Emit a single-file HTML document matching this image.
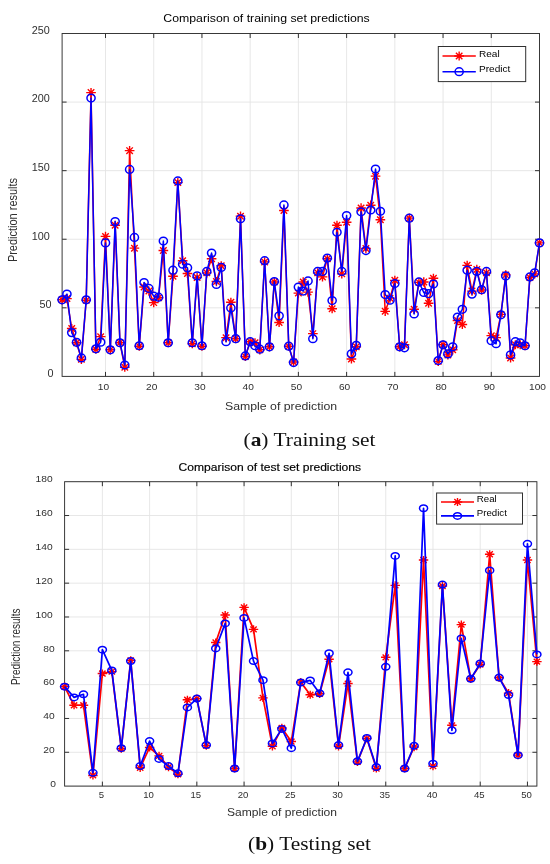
<!DOCTYPE html>
<html><head><meta charset="utf-8"><title>Comparison of predictions</title>
<style>html,body{margin:0;padding:0;background:#fff}svg{display:block}</style></head>
<body>
<svg width="550" height="864" viewBox="0 0 550 864">
<rect width="550" height="864" fill="#fff"/>
<g id="chart1">
<line x1="105.50" y1="33.5" x2="105.50" y2="376.4" stroke="#e4e4e4" stroke-width="0.9"/>
<line x1="153.72" y1="33.5" x2="153.72" y2="376.4" stroke="#e4e4e4" stroke-width="0.9"/>
<line x1="201.94" y1="33.5" x2="201.94" y2="376.4" stroke="#e4e4e4" stroke-width="0.9"/>
<line x1="250.17" y1="33.5" x2="250.17" y2="376.4" stroke="#e4e4e4" stroke-width="0.9"/>
<line x1="298.39" y1="33.5" x2="298.39" y2="376.4" stroke="#e4e4e4" stroke-width="0.9"/>
<line x1="346.61" y1="33.5" x2="346.61" y2="376.4" stroke="#e4e4e4" stroke-width="0.9"/>
<line x1="394.83" y1="33.5" x2="394.83" y2="376.4" stroke="#e4e4e4" stroke-width="0.9"/>
<line x1="443.06" y1="33.5" x2="443.06" y2="376.4" stroke="#e4e4e4" stroke-width="0.9"/>
<line x1="491.28" y1="33.5" x2="491.28" y2="376.4" stroke="#e4e4e4" stroke-width="0.9"/>
<line x1="539.50" y1="33.5" x2="539.50" y2="376.4" stroke="#e4e4e4" stroke-width="0.9"/>
<line x1="62.1" y1="376.40" x2="539.5" y2="376.40" stroke="#e4e4e4" stroke-width="0.9"/>
<line x1="62.1" y1="307.82" x2="539.5" y2="307.82" stroke="#e4e4e4" stroke-width="0.9"/>
<line x1="62.1" y1="239.24" x2="539.5" y2="239.24" stroke="#e4e4e4" stroke-width="0.9"/>
<line x1="62.1" y1="170.66" x2="539.5" y2="170.66" stroke="#e4e4e4" stroke-width="0.9"/>
<line x1="62.1" y1="102.08" x2="539.5" y2="102.08" stroke="#e4e4e4" stroke-width="0.9"/>
<line x1="62.1" y1="33.50" x2="539.5" y2="33.50" stroke="#e4e4e4" stroke-width="0.9"/>
<rect x="62.1" y="33.5" width="477.4" height="342.9" fill="none" stroke="#303030" stroke-width="0.95"/>
<path d="M105.50 376.4v-4.5M105.50 33.5v4.5" stroke="#303030" stroke-width="1"/>
<path d="M153.72 376.4v-4.5M153.72 33.5v4.5" stroke="#303030" stroke-width="1"/>
<path d="M201.94 376.4v-4.5M201.94 33.5v4.5" stroke="#303030" stroke-width="1"/>
<path d="M250.17 376.4v-4.5M250.17 33.5v4.5" stroke="#303030" stroke-width="1"/>
<path d="M298.39 376.4v-4.5M298.39 33.5v4.5" stroke="#303030" stroke-width="1"/>
<path d="M346.61 376.4v-4.5M346.61 33.5v4.5" stroke="#303030" stroke-width="1"/>
<path d="M394.83 376.4v-4.5M394.83 33.5v4.5" stroke="#303030" stroke-width="1"/>
<path d="M443.06 376.4v-4.5M443.06 33.5v4.5" stroke="#303030" stroke-width="1"/>
<path d="M491.28 376.4v-4.5M491.28 33.5v4.5" stroke="#303030" stroke-width="1"/>
<path d="M62.1 307.82h4.5M539.5 307.82h-4.5" stroke="#303030" stroke-width="1"/>
<path d="M62.1 239.24h4.5M539.5 239.24h-4.5" stroke="#303030" stroke-width="1"/>
<path d="M62.1 170.66h4.5M539.5 170.66h-4.5" stroke="#303030" stroke-width="1"/>
<path d="M62.1 102.08h4.5M539.5 102.08h-4.5" stroke="#303030" stroke-width="1"/>
<text transform="translate(103.50 390.0) scale(1.04 1)" text-anchor="middle" font-family="Liberation Sans, Arial, sans-serif" font-size="9.8" fill="#303030">10</text>
<text transform="translate(151.72 390.0) scale(1.04 1)" text-anchor="middle" font-family="Liberation Sans, Arial, sans-serif" font-size="9.8" fill="#303030">20</text>
<text transform="translate(199.94 390.0) scale(1.04 1)" text-anchor="middle" font-family="Liberation Sans, Arial, sans-serif" font-size="9.8" fill="#303030">30</text>
<text transform="translate(248.17 390.0) scale(1.04 1)" text-anchor="middle" font-family="Liberation Sans, Arial, sans-serif" font-size="9.8" fill="#303030">40</text>
<text transform="translate(296.39 390.0) scale(1.04 1)" text-anchor="middle" font-family="Liberation Sans, Arial, sans-serif" font-size="9.8" fill="#303030">50</text>
<text transform="translate(344.61 390.0) scale(1.04 1)" text-anchor="middle" font-family="Liberation Sans, Arial, sans-serif" font-size="9.8" fill="#303030">60</text>
<text transform="translate(392.83 390.0) scale(1.04 1)" text-anchor="middle" font-family="Liberation Sans, Arial, sans-serif" font-size="9.8" fill="#303030">70</text>
<text transform="translate(441.06 390.0) scale(1.04 1)" text-anchor="middle" font-family="Liberation Sans, Arial, sans-serif" font-size="9.8" fill="#303030">80</text>
<text transform="translate(489.28 390.0) scale(1.04 1)" text-anchor="middle" font-family="Liberation Sans, Arial, sans-serif" font-size="9.8" fill="#303030">90</text>
<text transform="translate(537.50 390.0) scale(1.04 1)" text-anchor="middle" font-family="Liberation Sans, Arial, sans-serif" font-size="9.8" fill="#303030">100</text>
<text transform="translate(53.6 376.70) scale(1.04 1)" text-anchor="end" font-family="Liberation Sans, Arial, sans-serif" font-size="10.4" fill="#303030">0</text>
<text transform="translate(51.6 308.12) scale(1.04 1)" text-anchor="end" font-family="Liberation Sans, Arial, sans-serif" font-size="10.4" fill="#303030">50</text>
<text transform="translate(49.8 239.54) scale(1.04 1)" text-anchor="end" font-family="Liberation Sans, Arial, sans-serif" font-size="10.4" fill="#303030">100</text>
<text transform="translate(49.8 170.96) scale(1.04 1)" text-anchor="end" font-family="Liberation Sans, Arial, sans-serif" font-size="10.4" fill="#303030">150</text>
<text transform="translate(49.8 102.38) scale(1.04 1)" text-anchor="end" font-family="Liberation Sans, Arial, sans-serif" font-size="10.4" fill="#303030">200</text>
<text transform="translate(49.8 33.80) scale(1.04 1)" text-anchor="end" font-family="Liberation Sans, Arial, sans-serif" font-size="10.4" fill="#303030">250</text>
<text transform="translate(266.5 21.6) scale(1.12 1)" text-anchor="middle" font-family="Liberation Sans, Arial, sans-serif" font-size="11" fill="#000" stroke="#000" stroke-width="0">Comparison of training set predictions</text>
<text transform="translate(281 409.7) scale(1.12 1)" text-anchor="middle" font-family="Liberation Sans, Arial, sans-serif" font-size="11" fill="#303030">Sample of prediction</text>
<text transform="translate(17 220) scale(1.12 1) rotate(-90)" text-anchor="middle" font-family="Liberation Sans, Arial, sans-serif" font-size="11" fill="#303030">Prediction results</text>
<polyline points="62.10,299.79 66.92,298.58 71.74,328.56 76.57,342.74 81.39,359.34 86.21,300.20 91.03,92.62 95.86,349.22 100.68,336.66 105.50,236.40 110.32,349.82 115.14,225.26 119.97,342.74 124.79,367.24 129.61,150.63 134.43,248.14 139.26,346.18 144.08,287.03 148.90,291.08 153.72,302.63 158.54,297.77 163.37,250.57 168.19,342.74 173.01,276.30 177.83,182.59 182.66,260.70 187.48,273.46 192.30,343.75 197.12,277.51 201.94,346.18 206.77,272.85 211.59,258.68 216.41,281.56 221.23,265.77 226.06,337.67 230.88,302.23 235.70,338.68 240.52,216.14 245.34,356.51 250.17,341.72 254.99,342.74 259.81,349.82 264.63,261.92 269.46,346.79 274.28,281.97 279.10,322.48 283.92,210.44 288.74,346.18 293.57,361.98 298.39,293.11 303.21,281.97 308.03,292.10 312.86,333.62 317.68,272.85 322.50,276.91 327.32,258.68 332.14,308.71 336.97,225.26 341.79,273.87 346.61,222.22 351.43,358.94 356.26,346.79 361.08,207.97 365.90,248.55 370.72,205.22 375.54,176.15 380.37,219.76 385.19,311.34 390.01,298.17 394.83,280.35 399.66,346.79 404.48,344.76 409.30,218.17 414.12,309.31 418.94,282.37 423.77,281.97 428.59,303.24 433.41,278.32 438.23,361.37 443.06,344.76 447.88,354.89 452.70,349.82 457.52,320.45 462.34,324.51 467.17,265.36 471.99,291.08 476.81,269.41 481.63,290.07 486.46,272.85 491.28,335.65 496.10,337.67 500.92,314.38 505.74,274.88 510.57,357.93 515.39,344.76 520.21,344.76 525.03,345.77 529.86,277.51 534.68,273.87 539.50,242.88" fill="none" stroke="#ff0000" stroke-width="1.5" stroke-linejoin="round"/>
<path d="M57.27 299.79H66.93M62.10 295.19V304.39M58.86 296.54L65.34 303.05M58.86 303.05L65.34 296.54" stroke="#ff0000" stroke-width="1.4" fill="none"/>
<path d="M62.09 298.58H71.75M66.92 293.98V303.18M63.68 295.33L70.17 301.83M63.68 301.83L70.17 295.33" stroke="#ff0000" stroke-width="1.4" fill="none"/>
<path d="M66.91 328.56H76.57M71.74 323.96V333.16M68.50 325.30L74.99 331.81M68.50 331.81L74.99 325.30" stroke="#ff0000" stroke-width="1.4" fill="none"/>
<path d="M71.74 342.74H81.40M76.57 338.14V347.34M73.32 339.48L79.81 345.99M73.32 345.99L79.81 339.48" stroke="#ff0000" stroke-width="1.4" fill="none"/>
<path d="M76.56 359.34H86.22M81.39 354.74V363.94M78.14 356.09L84.63 362.60M78.14 362.60L84.63 356.09" stroke="#ff0000" stroke-width="1.4" fill="none"/>
<path d="M81.38 300.20H91.04M86.21 295.60V304.80M82.97 296.95L89.46 303.45M82.97 303.45L89.46 296.95" stroke="#ff0000" stroke-width="1.4" fill="none"/>
<path d="M86.20 92.62H95.86M91.03 88.02V97.22M87.79 89.36L94.28 95.87M87.79 95.87L94.28 89.36" stroke="#ff0000" stroke-width="1.4" fill="none"/>
<path d="M91.03 349.22H100.69M95.86 344.62V353.82M92.61 345.96L99.10 352.47M92.61 352.47L99.10 345.96" stroke="#ff0000" stroke-width="1.4" fill="none"/>
<path d="M95.85 336.66H105.51M100.68 332.06V341.26M97.43 333.41L103.92 339.91M97.43 339.91L103.92 333.41" stroke="#ff0000" stroke-width="1.4" fill="none"/>
<path d="M100.67 236.40H110.33M105.50 231.80V241.00M102.26 233.14L108.74 239.65M102.26 239.65L108.74 233.14" stroke="#ff0000" stroke-width="1.4" fill="none"/>
<path d="M105.49 349.82H115.15M110.32 345.22V354.42M107.08 346.57L113.57 353.08M107.08 353.08L113.57 346.57" stroke="#ff0000" stroke-width="1.4" fill="none"/>
<path d="M110.31 225.26H119.97M115.14 220.66V229.86M111.90 222.00L118.39 228.51M111.90 228.51L118.39 222.00" stroke="#ff0000" stroke-width="1.4" fill="none"/>
<path d="M115.14 342.74H124.80M119.97 338.14V347.34M116.72 339.48L123.21 345.99M116.72 345.99L123.21 339.48" stroke="#ff0000" stroke-width="1.4" fill="none"/>
<path d="M119.96 367.24H129.62M124.79 362.64V371.84M121.54 363.99L128.03 370.50M121.54 370.50L128.03 363.99" stroke="#ff0000" stroke-width="1.4" fill="none"/>
<path d="M124.78 150.63H134.44M129.61 146.03V155.23M126.37 147.38L132.86 153.89M126.37 153.89L132.86 147.38" stroke="#ff0000" stroke-width="1.4" fill="none"/>
<path d="M129.60 248.14H139.26M134.43 243.54V252.74M131.19 244.89L137.68 251.40M131.19 251.40L137.68 244.89" stroke="#ff0000" stroke-width="1.4" fill="none"/>
<path d="M134.43 346.18H144.09M139.26 341.58V350.78M136.01 342.93L142.50 349.43M136.01 349.43L142.50 342.93" stroke="#ff0000" stroke-width="1.4" fill="none"/>
<path d="M139.25 287.03H148.91M144.08 282.43V291.63M140.83 283.78L147.32 290.29M140.83 290.29L147.32 283.78" stroke="#ff0000" stroke-width="1.4" fill="none"/>
<path d="M144.07 291.08H153.73M148.90 286.48V295.68M145.66 287.83L152.14 294.34M145.66 294.34L152.14 287.83" stroke="#ff0000" stroke-width="1.4" fill="none"/>
<path d="M148.89 302.63H158.55M153.72 298.03V307.23M150.48 299.38L156.97 305.88M150.48 305.88L156.97 299.38" stroke="#ff0000" stroke-width="1.4" fill="none"/>
<path d="M153.71 297.77H163.37M158.54 293.17V302.37M155.30 294.52L161.79 301.02M155.30 301.02L161.79 294.52" stroke="#ff0000" stroke-width="1.4" fill="none"/>
<path d="M158.54 250.57H168.20M163.37 245.97V255.17M160.12 247.32L166.61 253.83M160.12 253.83L166.61 247.32" stroke="#ff0000" stroke-width="1.4" fill="none"/>
<path d="M163.36 342.74H173.02M168.19 338.14V347.34M164.94 339.48L171.43 345.99M164.94 345.99L171.43 339.48" stroke="#ff0000" stroke-width="1.4" fill="none"/>
<path d="M168.18 276.30H177.84M173.01 271.70V280.90M169.77 273.05L176.26 279.55M169.77 279.55L176.26 273.05" stroke="#ff0000" stroke-width="1.4" fill="none"/>
<path d="M173.00 182.59H182.66M177.83 177.99V187.19M174.59 179.34L181.08 185.85M174.59 185.85L181.08 179.34" stroke="#ff0000" stroke-width="1.4" fill="none"/>
<path d="M177.83 260.70H187.49M182.66 256.10V265.30M179.41 257.45L185.90 263.95M179.41 263.95L185.90 257.45" stroke="#ff0000" stroke-width="1.4" fill="none"/>
<path d="M182.65 273.46H192.31M187.48 268.86V278.06M184.23 270.21L190.72 276.72M184.23 276.72L190.72 270.21" stroke="#ff0000" stroke-width="1.4" fill="none"/>
<path d="M187.47 343.75H197.13M192.30 339.15V348.35M189.06 340.50L195.54 347.00M189.06 347.00L195.54 340.50" stroke="#ff0000" stroke-width="1.4" fill="none"/>
<path d="M192.29 277.51H201.95M197.12 272.91V282.11M193.88 274.26L200.37 280.77M193.88 280.77L200.37 274.26" stroke="#ff0000" stroke-width="1.4" fill="none"/>
<path d="M197.11 346.18H206.77M201.94 341.58V350.78M198.70 342.93L205.19 349.43M198.70 349.43L205.19 342.93" stroke="#ff0000" stroke-width="1.4" fill="none"/>
<path d="M201.94 272.85H211.60M206.77 268.25V277.45M203.52 269.60L210.01 276.11M203.52 276.11L210.01 269.60" stroke="#ff0000" stroke-width="1.4" fill="none"/>
<path d="M206.76 258.68H216.42M211.59 254.08V263.28M208.34 255.42L214.83 261.93M208.34 261.93L214.83 255.42" stroke="#ff0000" stroke-width="1.4" fill="none"/>
<path d="M211.58 281.56H221.24M216.41 276.96V286.16M213.17 278.31L219.66 284.82M213.17 284.82L219.66 278.31" stroke="#ff0000" stroke-width="1.4" fill="none"/>
<path d="M216.40 265.77H226.06M221.23 261.17V270.37M217.99 262.51L224.48 269.02M217.99 269.02L224.48 262.51" stroke="#ff0000" stroke-width="1.4" fill="none"/>
<path d="M221.23 337.67H230.89M226.06 333.07V342.27M222.81 334.42L229.30 340.92M222.81 340.92L229.30 334.42" stroke="#ff0000" stroke-width="1.4" fill="none"/>
<path d="M226.05 302.23H235.71M230.88 297.63V306.83M227.63 298.97L234.12 305.48M227.63 305.48L234.12 298.97" stroke="#ff0000" stroke-width="1.4" fill="none"/>
<path d="M230.87 338.68H240.53M235.70 334.08V343.28M232.46 335.43L238.94 341.94M232.46 341.94L238.94 335.43" stroke="#ff0000" stroke-width="1.4" fill="none"/>
<path d="M235.69 216.14H245.35M240.52 211.54V220.74M237.28 212.89L243.77 219.39M237.28 219.39L243.77 212.89" stroke="#ff0000" stroke-width="1.4" fill="none"/>
<path d="M240.51 356.51H250.17M245.34 351.91V361.11M242.10 353.26L248.59 359.76M242.10 359.76L248.59 353.26" stroke="#ff0000" stroke-width="1.4" fill="none"/>
<path d="M245.34 341.72H255.00M250.17 337.12V346.32M246.92 338.47L253.41 344.98M246.92 344.98L253.41 338.47" stroke="#ff0000" stroke-width="1.4" fill="none"/>
<path d="M250.16 342.74H259.82M254.99 338.14V347.34M251.74 339.48L258.23 345.99M251.74 345.99L258.23 339.48" stroke="#ff0000" stroke-width="1.4" fill="none"/>
<path d="M254.98 349.82H264.64M259.81 345.22V354.42M256.57 346.57L263.06 353.08M256.57 353.08L263.06 346.57" stroke="#ff0000" stroke-width="1.4" fill="none"/>
<path d="M259.80 261.92H269.46M264.63 257.32V266.52M261.39 258.66L267.88 265.17M261.39 265.17L267.88 258.66" stroke="#ff0000" stroke-width="1.4" fill="none"/>
<path d="M264.63 346.79H274.29M269.46 342.19V351.39M266.21 343.53L272.70 350.04M266.21 350.04L272.70 343.53" stroke="#ff0000" stroke-width="1.4" fill="none"/>
<path d="M269.45 281.97H279.11M274.28 277.37V286.57M271.03 278.72L277.52 285.22M271.03 285.22L277.52 278.72" stroke="#ff0000" stroke-width="1.4" fill="none"/>
<path d="M274.27 322.48H283.93M279.10 317.88V327.08M275.86 319.23L282.34 325.73M275.86 325.73L282.34 319.23" stroke="#ff0000" stroke-width="1.4" fill="none"/>
<path d="M279.09 210.44H288.75M283.92 205.84V215.04M280.68 207.18L287.17 213.69M280.68 213.69L287.17 207.18" stroke="#ff0000" stroke-width="1.4" fill="none"/>
<path d="M283.91 346.18H293.57M288.74 341.58V350.78M285.50 342.93L291.99 349.43M285.50 349.43L291.99 342.93" stroke="#ff0000" stroke-width="1.4" fill="none"/>
<path d="M288.74 361.98H298.40M293.57 357.38V366.58M290.32 358.73L296.81 365.23M290.32 365.23L296.81 358.73" stroke="#ff0000" stroke-width="1.4" fill="none"/>
<path d="M293.56 293.11H303.22M298.39 288.51V297.71M295.14 289.86L301.63 296.36M295.14 296.36L301.63 289.86" stroke="#ff0000" stroke-width="1.4" fill="none"/>
<path d="M298.38 281.97H308.04M303.21 277.37V286.57M299.97 278.72L306.46 285.22M299.97 285.22L306.46 278.72" stroke="#ff0000" stroke-width="1.4" fill="none"/>
<path d="M303.20 292.10H312.86M308.03 287.50V296.70M304.79 288.84L311.28 295.35M304.79 295.35L311.28 288.84" stroke="#ff0000" stroke-width="1.4" fill="none"/>
<path d="M308.03 333.62H317.69M312.86 329.02V338.22M309.61 330.37L316.10 336.87M309.61 336.87L316.10 330.37" stroke="#ff0000" stroke-width="1.4" fill="none"/>
<path d="M312.85 272.85H322.51M317.68 268.25V277.45M314.43 269.60L320.92 276.11M314.43 276.11L320.92 269.60" stroke="#ff0000" stroke-width="1.4" fill="none"/>
<path d="M317.67 276.91H327.33M322.50 272.31V281.51M319.26 273.65L325.74 280.16M319.26 280.16L325.74 273.65" stroke="#ff0000" stroke-width="1.4" fill="none"/>
<path d="M322.49 258.68H332.15M327.32 254.08V263.28M324.08 255.42L330.57 261.93M324.08 261.93L330.57 255.42" stroke="#ff0000" stroke-width="1.4" fill="none"/>
<path d="M327.31 308.71H336.97M332.14 304.11V313.31M328.90 305.45L335.39 311.96M328.90 311.96L335.39 305.45" stroke="#ff0000" stroke-width="1.4" fill="none"/>
<path d="M332.14 225.26H341.80M336.97 220.66V229.86M333.72 222.00L340.21 228.51M333.72 228.51L340.21 222.00" stroke="#ff0000" stroke-width="1.4" fill="none"/>
<path d="M336.96 273.87H346.62M341.79 269.27V278.47M338.54 270.62L345.03 277.12M338.54 277.12L345.03 270.62" stroke="#ff0000" stroke-width="1.4" fill="none"/>
<path d="M341.78 222.22H351.44M346.61 217.62V226.82M343.37 218.96L349.86 225.47M343.37 225.47L349.86 218.96" stroke="#ff0000" stroke-width="1.4" fill="none"/>
<path d="M346.60 358.94H356.26M351.43 354.34V363.54M348.19 355.69L354.68 362.19M348.19 362.19L354.68 355.69" stroke="#ff0000" stroke-width="1.4" fill="none"/>
<path d="M351.43 346.79H361.09M356.26 342.19V351.39M353.01 343.53L359.50 350.04M353.01 350.04L359.50 343.53" stroke="#ff0000" stroke-width="1.4" fill="none"/>
<path d="M356.25 207.97H365.91M361.08 203.37V212.57M357.83 204.71L364.32 211.22M357.83 211.22L364.32 204.71" stroke="#ff0000" stroke-width="1.4" fill="none"/>
<path d="M361.07 248.55H370.73M365.90 243.95V253.15M362.66 245.30L369.14 251.80M362.66 251.80L369.14 245.30" stroke="#ff0000" stroke-width="1.4" fill="none"/>
<path d="M365.89 205.22H375.55M370.72 200.62V209.82M367.48 201.97L373.97 208.48M367.48 208.48L373.97 201.97" stroke="#ff0000" stroke-width="1.4" fill="none"/>
<path d="M370.71 176.15H380.37M375.54 171.55V180.75M372.30 172.89L378.79 179.40M372.30 179.40L378.79 172.89" stroke="#ff0000" stroke-width="1.4" fill="none"/>
<path d="M375.54 219.76H385.20M380.37 215.16V224.36M377.12 216.51L383.61 223.02M377.12 223.02L383.61 216.51" stroke="#ff0000" stroke-width="1.4" fill="none"/>
<path d="M380.36 311.34H390.02M385.19 306.74V315.94M381.94 308.09L388.43 314.59M381.94 314.59L388.43 308.09" stroke="#ff0000" stroke-width="1.4" fill="none"/>
<path d="M385.18 298.17H394.84M390.01 293.57V302.77M386.77 294.92L393.26 301.43M386.77 301.43L393.26 294.92" stroke="#ff0000" stroke-width="1.4" fill="none"/>
<path d="M390.00 280.35H399.66M394.83 275.75V284.95M391.59 277.10L398.08 283.60M391.59 283.60L398.08 277.10" stroke="#ff0000" stroke-width="1.4" fill="none"/>
<path d="M394.83 346.79H404.49M399.66 342.19V351.39M396.41 343.53L402.90 350.04M396.41 350.04L402.90 343.53" stroke="#ff0000" stroke-width="1.4" fill="none"/>
<path d="M399.65 344.76H409.31M404.48 340.16V349.36M401.23 341.51L407.72 348.01M401.23 348.01L407.72 341.51" stroke="#ff0000" stroke-width="1.4" fill="none"/>
<path d="M404.47 218.17H414.13M409.30 213.57V222.77M406.06 214.91L412.54 221.42M406.06 221.42L412.54 214.91" stroke="#ff0000" stroke-width="1.4" fill="none"/>
<path d="M409.29 309.31H418.95M414.12 304.71V313.91M410.88 306.06L417.37 312.57M410.88 312.57L417.37 306.06" stroke="#ff0000" stroke-width="1.4" fill="none"/>
<path d="M414.11 282.37H423.77M418.94 277.77V286.97M415.70 279.12L422.19 285.63M415.70 285.63L422.19 279.12" stroke="#ff0000" stroke-width="1.4" fill="none"/>
<path d="M418.94 281.97H428.60M423.77 277.37V286.57M420.52 278.72L427.01 285.22M420.52 285.22L427.01 278.72" stroke="#ff0000" stroke-width="1.4" fill="none"/>
<path d="M423.76 303.24H433.42M428.59 298.64V307.84M425.34 299.99L431.83 306.49M425.34 306.49L431.83 299.99" stroke="#ff0000" stroke-width="1.4" fill="none"/>
<path d="M428.58 278.32H438.24M433.41 273.72V282.92M430.17 275.07L436.66 281.58M430.17 281.58L436.66 275.07" stroke="#ff0000" stroke-width="1.4" fill="none"/>
<path d="M433.40 361.37H443.06M438.23 356.77V365.97M434.99 358.12L441.48 364.62M434.99 364.62L441.48 358.12" stroke="#ff0000" stroke-width="1.4" fill="none"/>
<path d="M438.23 344.76H447.89M443.06 340.16V349.36M439.81 341.51L446.30 348.01M439.81 348.01L446.30 341.51" stroke="#ff0000" stroke-width="1.4" fill="none"/>
<path d="M443.05 354.89H452.71M447.88 350.29V359.49M444.63 351.64L451.12 358.14M444.63 358.14L451.12 351.64" stroke="#ff0000" stroke-width="1.4" fill="none"/>
<path d="M447.87 349.82H457.53M452.70 345.22V354.42M449.46 346.57L455.94 353.08M449.46 353.08L455.94 346.57" stroke="#ff0000" stroke-width="1.4" fill="none"/>
<path d="M452.69 320.45H462.35M457.52 315.85V325.05M454.28 317.20L460.77 323.71M454.28 323.71L460.77 317.20" stroke="#ff0000" stroke-width="1.4" fill="none"/>
<path d="M457.51 324.51H467.17M462.34 319.91V329.11M459.10 321.25L465.59 327.76M459.10 327.76L465.59 321.25" stroke="#ff0000" stroke-width="1.4" fill="none"/>
<path d="M462.34 265.36H472.00M467.17 260.76V269.96M463.92 262.11L470.41 268.61M463.92 268.61L470.41 262.11" stroke="#ff0000" stroke-width="1.4" fill="none"/>
<path d="M467.16 291.08H476.82M471.99 286.48V295.68M468.74 287.83L475.23 294.34M468.74 294.34L475.23 287.83" stroke="#ff0000" stroke-width="1.4" fill="none"/>
<path d="M471.98 269.41H481.64M476.81 264.81V274.01M473.57 266.16L480.06 272.66M473.57 272.66L480.06 266.16" stroke="#ff0000" stroke-width="1.4" fill="none"/>
<path d="M476.80 290.07H486.46M481.63 285.47V294.67M478.39 286.82L484.88 293.32M478.39 293.32L484.88 286.82" stroke="#ff0000" stroke-width="1.4" fill="none"/>
<path d="M481.63 272.85H491.29M486.46 268.25V277.45M483.21 269.60L489.70 276.11M483.21 276.11L489.70 269.60" stroke="#ff0000" stroke-width="1.4" fill="none"/>
<path d="M486.45 335.65H496.11M491.28 331.05V340.25M488.03 332.39L494.52 338.90M488.03 338.90L494.52 332.39" stroke="#ff0000" stroke-width="1.4" fill="none"/>
<path d="M491.27 337.67H500.93M496.10 333.07V342.27M492.86 334.42L499.34 340.92M492.86 340.92L499.34 334.42" stroke="#ff0000" stroke-width="1.4" fill="none"/>
<path d="M496.09 314.38H505.75M500.92 309.78V318.98M497.68 311.13L504.17 317.63M497.68 317.63L504.17 311.13" stroke="#ff0000" stroke-width="1.4" fill="none"/>
<path d="M500.91 274.88H510.57M505.74 270.28V279.48M502.50 271.63L508.99 278.13M502.50 278.13L508.99 271.63" stroke="#ff0000" stroke-width="1.4" fill="none"/>
<path d="M505.74 357.93H515.40M510.57 353.33V362.53M507.32 354.67L513.81 361.18M507.32 361.18L513.81 354.67" stroke="#ff0000" stroke-width="1.4" fill="none"/>
<path d="M510.56 344.76H520.22M515.39 340.16V349.36M512.14 341.51L518.63 348.01M512.14 348.01L518.63 341.51" stroke="#ff0000" stroke-width="1.4" fill="none"/>
<path d="M515.38 344.76H525.04M520.21 340.16V349.36M516.97 341.51L523.46 348.01M516.97 348.01L523.46 341.51" stroke="#ff0000" stroke-width="1.4" fill="none"/>
<path d="M520.20 345.77H529.86M525.03 341.17V350.37M521.79 342.52L528.28 349.03M521.79 349.03L528.28 342.52" stroke="#ff0000" stroke-width="1.4" fill="none"/>
<path d="M525.03 277.51H534.69M529.86 272.91V282.11M526.61 274.26L533.10 280.77M526.61 280.77L533.10 274.26" stroke="#ff0000" stroke-width="1.4" fill="none"/>
<path d="M529.85 273.87H539.51M534.68 269.27V278.47M531.43 270.62L537.92 277.12M531.43 277.12L537.92 270.62" stroke="#ff0000" stroke-width="1.4" fill="none"/>
<path d="M534.67 242.88H544.33M539.50 238.28V247.48M536.26 239.62L542.74 246.13M536.26 246.13L542.74 239.62" stroke="#ff0000" stroke-width="1.4" fill="none"/>
<polyline points="62.10,299.79 66.92,294.12 71.74,332.61 76.57,342.33 81.39,357.93 86.21,299.79 91.03,98.10 95.86,348.81 100.68,342.13 105.50,242.88 110.32,349.82 115.14,221.61 119.97,342.74 124.79,365.02 129.61,169.43 134.43,237.41 139.26,345.77 144.08,282.58 148.90,288.45 153.72,296.15 158.54,297.16 163.37,241.05 168.19,342.74 173.01,270.22 177.83,180.95 182.66,264.15 187.48,267.79 192.30,342.74 197.12,275.89 201.94,345.77 206.77,271.44 211.59,253.00 216.41,284.40 221.23,267.39 226.06,341.72 230.88,307.90 235.70,338.68 240.52,218.77 245.34,355.90 250.17,341.72 254.99,345.77 259.81,349.22 264.63,260.70 269.46,346.79 274.28,281.56 279.10,315.80 283.92,204.95 288.74,346.18 293.57,362.59 298.39,287.03 303.21,291.08 308.03,280.96 312.86,338.68 317.68,271.44 322.50,271.44 327.32,258.07 332.14,300.60 336.97,232.34 341.79,271.44 346.61,215.53 351.43,353.88 356.26,345.37 361.08,211.81 365.90,250.57 370.72,210.02 375.54,169.01 380.37,211.26 385.19,294.53 390.01,300.20 394.83,283.59 399.66,346.79 404.48,347.80 409.30,218.17 414.12,313.97 418.94,281.97 423.77,292.50 428.59,293.72 433.41,284.00 438.23,360.56 443.06,344.76 447.88,353.88 452.70,346.79 457.52,317.01 462.34,309.31 467.17,270.22 471.99,294.12 476.81,271.44 481.63,289.67 486.46,271.44 491.28,340.71 496.10,343.75 500.92,314.78 505.74,275.89 510.57,354.89 515.39,341.72 520.21,342.74 525.03,345.77 529.86,276.91 534.68,272.85 539.50,242.88" fill="none" stroke="#0000ff" stroke-width="1.5" stroke-linejoin="round"/>
<ellipse cx="62.10" cy="299.79" rx="4.08" ry="3.85" fill="none" stroke="#0000ff" stroke-width="1.5"/>
<ellipse cx="66.92" cy="294.12" rx="4.08" ry="3.85" fill="none" stroke="#0000ff" stroke-width="1.5"/>
<ellipse cx="71.74" cy="332.61" rx="4.08" ry="3.85" fill="none" stroke="#0000ff" stroke-width="1.5"/>
<ellipse cx="76.57" cy="342.33" rx="4.08" ry="3.85" fill="none" stroke="#0000ff" stroke-width="1.5"/>
<ellipse cx="81.39" cy="357.93" rx="4.08" ry="3.85" fill="none" stroke="#0000ff" stroke-width="1.5"/>
<ellipse cx="86.21" cy="299.79" rx="4.08" ry="3.85" fill="none" stroke="#0000ff" stroke-width="1.5"/>
<ellipse cx="91.03" cy="98.10" rx="4.08" ry="3.85" fill="none" stroke="#0000ff" stroke-width="1.5"/>
<ellipse cx="95.86" cy="348.81" rx="4.08" ry="3.85" fill="none" stroke="#0000ff" stroke-width="1.5"/>
<ellipse cx="100.68" cy="342.13" rx="4.08" ry="3.85" fill="none" stroke="#0000ff" stroke-width="1.5"/>
<ellipse cx="105.50" cy="242.88" rx="4.08" ry="3.85" fill="none" stroke="#0000ff" stroke-width="1.5"/>
<ellipse cx="110.32" cy="349.82" rx="4.08" ry="3.85" fill="none" stroke="#0000ff" stroke-width="1.5"/>
<ellipse cx="115.14" cy="221.61" rx="4.08" ry="3.85" fill="none" stroke="#0000ff" stroke-width="1.5"/>
<ellipse cx="119.97" cy="342.74" rx="4.08" ry="3.85" fill="none" stroke="#0000ff" stroke-width="1.5"/>
<ellipse cx="124.79" cy="365.02" rx="4.08" ry="3.85" fill="none" stroke="#0000ff" stroke-width="1.5"/>
<ellipse cx="129.61" cy="169.43" rx="4.08" ry="3.85" fill="none" stroke="#0000ff" stroke-width="1.5"/>
<ellipse cx="134.43" cy="237.41" rx="4.08" ry="3.85" fill="none" stroke="#0000ff" stroke-width="1.5"/>
<ellipse cx="139.26" cy="345.77" rx="4.08" ry="3.85" fill="none" stroke="#0000ff" stroke-width="1.5"/>
<ellipse cx="144.08" cy="282.58" rx="4.08" ry="3.85" fill="none" stroke="#0000ff" stroke-width="1.5"/>
<ellipse cx="148.90" cy="288.45" rx="4.08" ry="3.85" fill="none" stroke="#0000ff" stroke-width="1.5"/>
<ellipse cx="153.72" cy="296.15" rx="4.08" ry="3.85" fill="none" stroke="#0000ff" stroke-width="1.5"/>
<ellipse cx="158.54" cy="297.16" rx="4.08" ry="3.85" fill="none" stroke="#0000ff" stroke-width="1.5"/>
<ellipse cx="163.37" cy="241.05" rx="4.08" ry="3.85" fill="none" stroke="#0000ff" stroke-width="1.5"/>
<ellipse cx="168.19" cy="342.74" rx="4.08" ry="3.85" fill="none" stroke="#0000ff" stroke-width="1.5"/>
<ellipse cx="173.01" cy="270.22" rx="4.08" ry="3.85" fill="none" stroke="#0000ff" stroke-width="1.5"/>
<ellipse cx="177.83" cy="180.95" rx="4.08" ry="3.85" fill="none" stroke="#0000ff" stroke-width="1.5"/>
<ellipse cx="182.66" cy="264.15" rx="4.08" ry="3.85" fill="none" stroke="#0000ff" stroke-width="1.5"/>
<ellipse cx="187.48" cy="267.79" rx="4.08" ry="3.85" fill="none" stroke="#0000ff" stroke-width="1.5"/>
<ellipse cx="192.30" cy="342.74" rx="4.08" ry="3.85" fill="none" stroke="#0000ff" stroke-width="1.5"/>
<ellipse cx="197.12" cy="275.89" rx="4.08" ry="3.85" fill="none" stroke="#0000ff" stroke-width="1.5"/>
<ellipse cx="201.94" cy="345.77" rx="4.08" ry="3.85" fill="none" stroke="#0000ff" stroke-width="1.5"/>
<ellipse cx="206.77" cy="271.44" rx="4.08" ry="3.85" fill="none" stroke="#0000ff" stroke-width="1.5"/>
<ellipse cx="211.59" cy="253.00" rx="4.08" ry="3.85" fill="none" stroke="#0000ff" stroke-width="1.5"/>
<ellipse cx="216.41" cy="284.40" rx="4.08" ry="3.85" fill="none" stroke="#0000ff" stroke-width="1.5"/>
<ellipse cx="221.23" cy="267.39" rx="4.08" ry="3.85" fill="none" stroke="#0000ff" stroke-width="1.5"/>
<ellipse cx="226.06" cy="341.72" rx="4.08" ry="3.85" fill="none" stroke="#0000ff" stroke-width="1.5"/>
<ellipse cx="230.88" cy="307.90" rx="4.08" ry="3.85" fill="none" stroke="#0000ff" stroke-width="1.5"/>
<ellipse cx="235.70" cy="338.68" rx="4.08" ry="3.85" fill="none" stroke="#0000ff" stroke-width="1.5"/>
<ellipse cx="240.52" cy="218.77" rx="4.08" ry="3.85" fill="none" stroke="#0000ff" stroke-width="1.5"/>
<ellipse cx="245.34" cy="355.90" rx="4.08" ry="3.85" fill="none" stroke="#0000ff" stroke-width="1.5"/>
<ellipse cx="250.17" cy="341.72" rx="4.08" ry="3.85" fill="none" stroke="#0000ff" stroke-width="1.5"/>
<ellipse cx="254.99" cy="345.77" rx="4.08" ry="3.85" fill="none" stroke="#0000ff" stroke-width="1.5"/>
<ellipse cx="259.81" cy="349.22" rx="4.08" ry="3.85" fill="none" stroke="#0000ff" stroke-width="1.5"/>
<ellipse cx="264.63" cy="260.70" rx="4.08" ry="3.85" fill="none" stroke="#0000ff" stroke-width="1.5"/>
<ellipse cx="269.46" cy="346.79" rx="4.08" ry="3.85" fill="none" stroke="#0000ff" stroke-width="1.5"/>
<ellipse cx="274.28" cy="281.56" rx="4.08" ry="3.85" fill="none" stroke="#0000ff" stroke-width="1.5"/>
<ellipse cx="279.10" cy="315.80" rx="4.08" ry="3.85" fill="none" stroke="#0000ff" stroke-width="1.5"/>
<ellipse cx="283.92" cy="204.95" rx="4.08" ry="3.85" fill="none" stroke="#0000ff" stroke-width="1.5"/>
<ellipse cx="288.74" cy="346.18" rx="4.08" ry="3.85" fill="none" stroke="#0000ff" stroke-width="1.5"/>
<ellipse cx="293.57" cy="362.59" rx="4.08" ry="3.85" fill="none" stroke="#0000ff" stroke-width="1.5"/>
<ellipse cx="298.39" cy="287.03" rx="4.08" ry="3.85" fill="none" stroke="#0000ff" stroke-width="1.5"/>
<ellipse cx="303.21" cy="291.08" rx="4.08" ry="3.85" fill="none" stroke="#0000ff" stroke-width="1.5"/>
<ellipse cx="308.03" cy="280.96" rx="4.08" ry="3.85" fill="none" stroke="#0000ff" stroke-width="1.5"/>
<ellipse cx="312.86" cy="338.68" rx="4.08" ry="3.85" fill="none" stroke="#0000ff" stroke-width="1.5"/>
<ellipse cx="317.68" cy="271.44" rx="4.08" ry="3.85" fill="none" stroke="#0000ff" stroke-width="1.5"/>
<ellipse cx="322.50" cy="271.44" rx="4.08" ry="3.85" fill="none" stroke="#0000ff" stroke-width="1.5"/>
<ellipse cx="327.32" cy="258.07" rx="4.08" ry="3.85" fill="none" stroke="#0000ff" stroke-width="1.5"/>
<ellipse cx="332.14" cy="300.60" rx="4.08" ry="3.85" fill="none" stroke="#0000ff" stroke-width="1.5"/>
<ellipse cx="336.97" cy="232.34" rx="4.08" ry="3.85" fill="none" stroke="#0000ff" stroke-width="1.5"/>
<ellipse cx="341.79" cy="271.44" rx="4.08" ry="3.85" fill="none" stroke="#0000ff" stroke-width="1.5"/>
<ellipse cx="346.61" cy="215.53" rx="4.08" ry="3.85" fill="none" stroke="#0000ff" stroke-width="1.5"/>
<ellipse cx="351.43" cy="353.88" rx="4.08" ry="3.85" fill="none" stroke="#0000ff" stroke-width="1.5"/>
<ellipse cx="356.26" cy="345.37" rx="4.08" ry="3.85" fill="none" stroke="#0000ff" stroke-width="1.5"/>
<ellipse cx="361.08" cy="211.81" rx="4.08" ry="3.85" fill="none" stroke="#0000ff" stroke-width="1.5"/>
<ellipse cx="365.90" cy="250.57" rx="4.08" ry="3.85" fill="none" stroke="#0000ff" stroke-width="1.5"/>
<ellipse cx="370.72" cy="210.02" rx="4.08" ry="3.85" fill="none" stroke="#0000ff" stroke-width="1.5"/>
<ellipse cx="375.54" cy="169.01" rx="4.08" ry="3.85" fill="none" stroke="#0000ff" stroke-width="1.5"/>
<ellipse cx="380.37" cy="211.26" rx="4.08" ry="3.85" fill="none" stroke="#0000ff" stroke-width="1.5"/>
<ellipse cx="385.19" cy="294.53" rx="4.08" ry="3.85" fill="none" stroke="#0000ff" stroke-width="1.5"/>
<ellipse cx="390.01" cy="300.20" rx="4.08" ry="3.85" fill="none" stroke="#0000ff" stroke-width="1.5"/>
<ellipse cx="394.83" cy="283.59" rx="4.08" ry="3.85" fill="none" stroke="#0000ff" stroke-width="1.5"/>
<ellipse cx="399.66" cy="346.79" rx="4.08" ry="3.85" fill="none" stroke="#0000ff" stroke-width="1.5"/>
<ellipse cx="404.48" cy="347.80" rx="4.08" ry="3.85" fill="none" stroke="#0000ff" stroke-width="1.5"/>
<ellipse cx="409.30" cy="218.17" rx="4.08" ry="3.85" fill="none" stroke="#0000ff" stroke-width="1.5"/>
<ellipse cx="414.12" cy="313.97" rx="4.08" ry="3.85" fill="none" stroke="#0000ff" stroke-width="1.5"/>
<ellipse cx="418.94" cy="281.97" rx="4.08" ry="3.85" fill="none" stroke="#0000ff" stroke-width="1.5"/>
<ellipse cx="423.77" cy="292.50" rx="4.08" ry="3.85" fill="none" stroke="#0000ff" stroke-width="1.5"/>
<ellipse cx="428.59" cy="293.72" rx="4.08" ry="3.85" fill="none" stroke="#0000ff" stroke-width="1.5"/>
<ellipse cx="433.41" cy="284.00" rx="4.08" ry="3.85" fill="none" stroke="#0000ff" stroke-width="1.5"/>
<ellipse cx="438.23" cy="360.56" rx="4.08" ry="3.85" fill="none" stroke="#0000ff" stroke-width="1.5"/>
<ellipse cx="443.06" cy="344.76" rx="4.08" ry="3.85" fill="none" stroke="#0000ff" stroke-width="1.5"/>
<ellipse cx="447.88" cy="353.88" rx="4.08" ry="3.85" fill="none" stroke="#0000ff" stroke-width="1.5"/>
<ellipse cx="452.70" cy="346.79" rx="4.08" ry="3.85" fill="none" stroke="#0000ff" stroke-width="1.5"/>
<ellipse cx="457.52" cy="317.01" rx="4.08" ry="3.85" fill="none" stroke="#0000ff" stroke-width="1.5"/>
<ellipse cx="462.34" cy="309.31" rx="4.08" ry="3.85" fill="none" stroke="#0000ff" stroke-width="1.5"/>
<ellipse cx="467.17" cy="270.22" rx="4.08" ry="3.85" fill="none" stroke="#0000ff" stroke-width="1.5"/>
<ellipse cx="471.99" cy="294.12" rx="4.08" ry="3.85" fill="none" stroke="#0000ff" stroke-width="1.5"/>
<ellipse cx="476.81" cy="271.44" rx="4.08" ry="3.85" fill="none" stroke="#0000ff" stroke-width="1.5"/>
<ellipse cx="481.63" cy="289.67" rx="4.08" ry="3.85" fill="none" stroke="#0000ff" stroke-width="1.5"/>
<ellipse cx="486.46" cy="271.44" rx="4.08" ry="3.85" fill="none" stroke="#0000ff" stroke-width="1.5"/>
<ellipse cx="491.28" cy="340.71" rx="4.08" ry="3.85" fill="none" stroke="#0000ff" stroke-width="1.5"/>
<ellipse cx="496.10" cy="343.75" rx="4.08" ry="3.85" fill="none" stroke="#0000ff" stroke-width="1.5"/>
<ellipse cx="500.92" cy="314.78" rx="4.08" ry="3.85" fill="none" stroke="#0000ff" stroke-width="1.5"/>
<ellipse cx="505.74" cy="275.89" rx="4.08" ry="3.85" fill="none" stroke="#0000ff" stroke-width="1.5"/>
<ellipse cx="510.57" cy="354.89" rx="4.08" ry="3.85" fill="none" stroke="#0000ff" stroke-width="1.5"/>
<ellipse cx="515.39" cy="341.72" rx="4.08" ry="3.85" fill="none" stroke="#0000ff" stroke-width="1.5"/>
<ellipse cx="520.21" cy="342.74" rx="4.08" ry="3.85" fill="none" stroke="#0000ff" stroke-width="1.5"/>
<ellipse cx="525.03" cy="345.77" rx="4.08" ry="3.85" fill="none" stroke="#0000ff" stroke-width="1.5"/>
<ellipse cx="529.86" cy="276.91" rx="4.08" ry="3.85" fill="none" stroke="#0000ff" stroke-width="1.5"/>
<ellipse cx="534.68" cy="272.85" rx="4.08" ry="3.85" fill="none" stroke="#0000ff" stroke-width="1.5"/>
<ellipse cx="539.50" cy="242.88" rx="4.08" ry="3.85" fill="none" stroke="#0000ff" stroke-width="1.5"/>
<rect x="438.3" y="46.5" width="87.40000000000003" height="35.099999999999994" fill="#fff" stroke="#303030" stroke-width="1"/>
<line x1="442.5" y1="56" x2="475.8" y2="56" stroke="#ff0000" stroke-width="1.5"/>
<path d="M454.32 56.00H463.98M459.15 51.40V60.60M455.91 52.75L462.39 59.25M455.91 59.25L462.39 52.75" stroke="#ff0000" stroke-width="1.4" fill="none"/>
<line x1="442.5" y1="71.7" x2="475.8" y2="71.7" stroke="#0000ff" stroke-width="1.5"/>
<ellipse cx="459.15" cy="71.7" rx="4.08" ry="3.85" fill="none" stroke="#0000ff" stroke-width="1.5"/>
<text transform="translate(479 56.5) scale(1.12 1)" font-family="Liberation Sans, Arial, sans-serif" font-size="9.0" fill="#000">Real</text>
<text transform="translate(479 72.2) scale(1.12 1)" font-family="Liberation Sans, Arial, sans-serif" font-size="9.0" fill="#000">Predict</text>
</g>
<g id="chart2">
<line x1="102.38" y1="481.7" x2="102.38" y2="786.1" stroke="#e4e4e4" stroke-width="0.9"/>
<line x1="149.61" y1="481.7" x2="149.61" y2="786.1" stroke="#e4e4e4" stroke-width="0.9"/>
<line x1="196.84" y1="481.7" x2="196.84" y2="786.1" stroke="#e4e4e4" stroke-width="0.9"/>
<line x1="244.07" y1="481.7" x2="244.07" y2="786.1" stroke="#e4e4e4" stroke-width="0.9"/>
<line x1="291.30" y1="481.7" x2="291.30" y2="786.1" stroke="#e4e4e4" stroke-width="0.9"/>
<line x1="338.53" y1="481.7" x2="338.53" y2="786.1" stroke="#e4e4e4" stroke-width="0.9"/>
<line x1="385.76" y1="481.7" x2="385.76" y2="786.1" stroke="#e4e4e4" stroke-width="0.9"/>
<line x1="432.99" y1="481.7" x2="432.99" y2="786.1" stroke="#e4e4e4" stroke-width="0.9"/>
<line x1="480.22" y1="481.7" x2="480.22" y2="786.1" stroke="#e4e4e4" stroke-width="0.9"/>
<line x1="527.45" y1="481.7" x2="527.45" y2="786.1" stroke="#e4e4e4" stroke-width="0.9"/>
<line x1="64.6" y1="786.10" x2="536.9" y2="786.10" stroke="#e4e4e4" stroke-width="0.9"/>
<line x1="64.6" y1="752.28" x2="536.9" y2="752.28" stroke="#e4e4e4" stroke-width="0.9"/>
<line x1="64.6" y1="718.46" x2="536.9" y2="718.46" stroke="#e4e4e4" stroke-width="0.9"/>
<line x1="64.6" y1="684.63" x2="536.9" y2="684.63" stroke="#e4e4e4" stroke-width="0.9"/>
<line x1="64.6" y1="650.81" x2="536.9" y2="650.81" stroke="#e4e4e4" stroke-width="0.9"/>
<line x1="64.6" y1="616.99" x2="536.9" y2="616.99" stroke="#e4e4e4" stroke-width="0.9"/>
<line x1="64.6" y1="583.17" x2="536.9" y2="583.17" stroke="#e4e4e4" stroke-width="0.9"/>
<line x1="64.6" y1="549.34" x2="536.9" y2="549.34" stroke="#e4e4e4" stroke-width="0.9"/>
<line x1="64.6" y1="515.52" x2="536.9" y2="515.52" stroke="#e4e4e4" stroke-width="0.9"/>
<line x1="64.6" y1="481.70" x2="536.9" y2="481.70" stroke="#e4e4e4" stroke-width="0.9"/>
<rect x="64.6" y="481.7" width="472.29999999999995" height="304.40000000000003" fill="none" stroke="#303030" stroke-width="0.95"/>
<path d="M102.38 786.1v-4.5M102.38 481.7v4.5" stroke="#303030" stroke-width="1"/>
<path d="M149.61 786.1v-4.5M149.61 481.7v4.5" stroke="#303030" stroke-width="1"/>
<path d="M196.84 786.1v-4.5M196.84 481.7v4.5" stroke="#303030" stroke-width="1"/>
<path d="M244.07 786.1v-4.5M244.07 481.7v4.5" stroke="#303030" stroke-width="1"/>
<path d="M291.30 786.1v-4.5M291.30 481.7v4.5" stroke="#303030" stroke-width="1"/>
<path d="M338.53 786.1v-4.5M338.53 481.7v4.5" stroke="#303030" stroke-width="1"/>
<path d="M385.76 786.1v-4.5M385.76 481.7v4.5" stroke="#303030" stroke-width="1"/>
<path d="M432.99 786.1v-4.5M432.99 481.7v4.5" stroke="#303030" stroke-width="1"/>
<path d="M480.22 786.1v-4.5M480.22 481.7v4.5" stroke="#303030" stroke-width="1"/>
<path d="M527.45 786.1v-4.5M527.45 481.7v4.5" stroke="#303030" stroke-width="1"/>
<path d="M64.6 752.28h4.5M536.9 752.28h-4.5" stroke="#303030" stroke-width="1"/>
<path d="M64.6 718.46h4.5M536.9 718.46h-4.5" stroke="#303030" stroke-width="1"/>
<path d="M64.6 684.63h4.5M536.9 684.63h-4.5" stroke="#303030" stroke-width="1"/>
<path d="M64.6 650.81h4.5M536.9 650.81h-4.5" stroke="#303030" stroke-width="1"/>
<path d="M64.6 616.99h4.5M536.9 616.99h-4.5" stroke="#303030" stroke-width="1"/>
<path d="M64.6 583.17h4.5M536.9 583.17h-4.5" stroke="#303030" stroke-width="1"/>
<path d="M64.6 549.34h4.5M536.9 549.34h-4.5" stroke="#303030" stroke-width="1"/>
<path d="M64.6 515.52h4.5M536.9 515.52h-4.5" stroke="#303030" stroke-width="1"/>
<text transform="translate(101.38 798.0) scale(1.09 1)" text-anchor="middle" font-family="Liberation Sans, Arial, sans-serif" font-size="8.8" fill="#303030">5</text>
<text transform="translate(148.61 798.0) scale(1.09 1)" text-anchor="middle" font-family="Liberation Sans, Arial, sans-serif" font-size="8.8" fill="#303030">10</text>
<text transform="translate(195.84 798.0) scale(1.09 1)" text-anchor="middle" font-family="Liberation Sans, Arial, sans-serif" font-size="8.8" fill="#303030">15</text>
<text transform="translate(243.07 798.0) scale(1.09 1)" text-anchor="middle" font-family="Liberation Sans, Arial, sans-serif" font-size="8.8" fill="#303030">20</text>
<text transform="translate(290.30 798.0) scale(1.09 1)" text-anchor="middle" font-family="Liberation Sans, Arial, sans-serif" font-size="8.8" fill="#303030">25</text>
<text transform="translate(337.53 798.0) scale(1.09 1)" text-anchor="middle" font-family="Liberation Sans, Arial, sans-serif" font-size="8.8" fill="#303030">30</text>
<text transform="translate(384.76 798.0) scale(1.09 1)" text-anchor="middle" font-family="Liberation Sans, Arial, sans-serif" font-size="8.8" fill="#303030">35</text>
<text transform="translate(431.99 798.0) scale(1.09 1)" text-anchor="middle" font-family="Liberation Sans, Arial, sans-serif" font-size="8.8" fill="#303030">40</text>
<text transform="translate(479.22 798.0) scale(1.09 1)" text-anchor="middle" font-family="Liberation Sans, Arial, sans-serif" font-size="8.8" fill="#303030">45</text>
<text transform="translate(526.45 798.0) scale(1.09 1)" text-anchor="middle" font-family="Liberation Sans, Arial, sans-serif" font-size="8.8" fill="#303030">50</text>
<text transform="translate(56.0 786.80) scale(1.09 1)" text-anchor="end" font-family="Liberation Sans, Arial, sans-serif" font-size="9.4" fill="#303030">0</text>
<text transform="translate(54.7 752.98) scale(1.09 1)" text-anchor="end" font-family="Liberation Sans, Arial, sans-serif" font-size="9.4" fill="#303030">20</text>
<text transform="translate(54.7 719.16) scale(1.09 1)" text-anchor="end" font-family="Liberation Sans, Arial, sans-serif" font-size="9.4" fill="#303030">40</text>
<text transform="translate(54.7 685.33) scale(1.09 1)" text-anchor="end" font-family="Liberation Sans, Arial, sans-serif" font-size="9.4" fill="#303030">60</text>
<text transform="translate(54.7 651.51) scale(1.09 1)" text-anchor="end" font-family="Liberation Sans, Arial, sans-serif" font-size="9.4" fill="#303030">80</text>
<text transform="translate(52.7 617.69) scale(1.09 1)" text-anchor="end" font-family="Liberation Sans, Arial, sans-serif" font-size="9.4" fill="#303030">100</text>
<text transform="translate(52.7 583.87) scale(1.09 1)" text-anchor="end" font-family="Liberation Sans, Arial, sans-serif" font-size="9.4" fill="#303030">120</text>
<text transform="translate(52.7 550.04) scale(1.09 1)" text-anchor="end" font-family="Liberation Sans, Arial, sans-serif" font-size="9.4" fill="#303030">140</text>
<text transform="translate(52.7 516.22) scale(1.09 1)" text-anchor="end" font-family="Liberation Sans, Arial, sans-serif" font-size="9.4" fill="#303030">160</text>
<text transform="translate(52.7 482.40) scale(1.09 1)" text-anchor="end" font-family="Liberation Sans, Arial, sans-serif" font-size="9.4" fill="#303030">180</text>
<text transform="translate(269.8 471.4) scale(1.21 1)" text-anchor="middle" font-family="Liberation Sans, Arial, sans-serif" font-size="10" fill="#000" stroke="#000" stroke-width="0.15">Comparison of test set predictions</text>
<text transform="translate(282 815.6) scale(1.21 1)" text-anchor="middle" font-family="Liberation Sans, Arial, sans-serif" font-size="10" fill="#303030">Sample of prediction</text>
<text transform="translate(20 646.8) scale(1.21 1) rotate(-90)" text-anchor="middle" font-family="Liberation Sans, Arial, sans-serif" font-size="10" fill="#303030">Prediction results</text>
<polyline points="64.60,686.65 74.05,705.27 83.49,705.27 92.94,775.43 102.38,673.53 111.83,671.62 121.28,748.70 130.72,660.40 140.17,767.80 149.61,747.51 159.06,755.86 168.51,767.08 177.95,774.24 187.40,699.78 196.84,698.59 206.29,745.60 215.74,642.50 225.18,615.06 234.63,768.51 244.07,607.42 253.52,629.38 262.97,697.87 272.41,746.32 281.86,727.94 291.30,741.54 300.75,682.12 310.20,694.77 319.64,693.81 329.09,659.21 338.53,746.32 347.98,683.55 357.43,761.83 366.87,738.44 376.32,768.51 385.76,657.30 395.21,585.37 404.66,768.51 414.10,747.03 423.55,560.00 432.99,766.12 442.44,586.04 451.89,725.31 461.33,624.60 470.78,678.78 480.22,664.46 489.67,554.25 499.12,677.82 508.56,693.10 518.01,755.15 527.45,560.00 536.90,661.59" fill="none" stroke="#ff0000" stroke-width="1.7" stroke-linejoin="round"/>
<path d="M59.88 686.65H69.31M64.60 682.55V690.75M61.43 683.75L67.77 689.55M61.43 689.55L67.77 683.75" stroke="#ff0000" stroke-width="1.4" fill="none"/>
<path d="M69.33 705.27H78.76M74.05 701.17V709.37M70.88 702.37L77.21 708.17M70.88 708.17L77.21 702.37" stroke="#ff0000" stroke-width="1.4" fill="none"/>
<path d="M78.78 705.27H88.21M83.49 701.17V709.37M80.32 702.37L86.66 708.17M80.32 708.17L86.66 702.37" stroke="#ff0000" stroke-width="1.4" fill="none"/>
<path d="M88.22 775.43H97.65M92.94 771.33V779.53M89.77 772.53L96.11 778.33M89.77 778.33L96.11 772.53" stroke="#ff0000" stroke-width="1.4" fill="none"/>
<path d="M97.67 673.53H107.10M102.38 669.43V677.63M99.22 670.63L105.55 676.43M99.22 676.43L105.55 670.63" stroke="#ff0000" stroke-width="1.4" fill="none"/>
<path d="M107.11 671.62H116.54M111.83 667.52V675.72M108.66 668.72L115.00 674.52M108.66 674.52L115.00 668.72" stroke="#ff0000" stroke-width="1.4" fill="none"/>
<path d="M116.56 748.70H125.99M121.28 744.60V752.80M118.11 745.80L124.44 751.60M118.11 751.60L124.44 745.80" stroke="#ff0000" stroke-width="1.4" fill="none"/>
<path d="M126.01 660.40H135.44M130.72 656.30V664.50M127.55 657.50L133.89 663.30M127.55 663.30L133.89 657.50" stroke="#ff0000" stroke-width="1.4" fill="none"/>
<path d="M135.45 767.80H144.88M140.17 763.70V771.90M137.00 764.90L143.34 770.69M137.00 770.69L143.34 764.90" stroke="#ff0000" stroke-width="1.4" fill="none"/>
<path d="M144.90 747.51H154.33M149.61 743.41V751.61M146.45 744.61L152.78 750.41M146.45 750.41L152.78 744.61" stroke="#ff0000" stroke-width="1.4" fill="none"/>
<path d="M154.34 755.86H163.78M159.06 751.76V759.96M155.89 752.96L162.23 758.76M155.89 758.76L162.23 752.96" stroke="#ff0000" stroke-width="1.4" fill="none"/>
<path d="M163.79 767.08H173.22M168.51 762.98V771.18M165.34 764.18L171.67 769.98M165.34 769.98L171.67 764.18" stroke="#ff0000" stroke-width="1.4" fill="none"/>
<path d="M173.24 774.24H182.67M177.95 770.14V778.34M174.78 771.34L181.12 777.14M174.78 777.14L181.12 771.34" stroke="#ff0000" stroke-width="1.4" fill="none"/>
<path d="M182.68 699.78H192.11M187.40 695.68V703.88M184.23 696.88L190.57 702.68M184.23 702.68L190.57 696.88" stroke="#ff0000" stroke-width="1.4" fill="none"/>
<path d="M192.13 698.59H201.56M196.84 694.49V702.69M193.68 695.69L200.01 701.48M193.68 701.48L200.01 695.69" stroke="#ff0000" stroke-width="1.4" fill="none"/>
<path d="M201.57 745.60H211.00M206.29 741.50V749.70M203.12 742.70L209.46 748.50M203.12 748.50L209.46 742.70" stroke="#ff0000" stroke-width="1.4" fill="none"/>
<path d="M211.02 642.50H220.45M215.74 638.40V646.60M212.57 639.60L218.90 645.40M212.57 645.40L218.90 639.60" stroke="#ff0000" stroke-width="1.4" fill="none"/>
<path d="M220.47 615.06H229.90M225.18 610.96V619.16M222.01 612.16L228.35 617.95M222.01 617.95L228.35 612.16" stroke="#ff0000" stroke-width="1.4" fill="none"/>
<path d="M229.91 768.51H239.34M234.63 764.41V772.61M231.46 765.61L237.80 771.41M231.46 771.41L237.80 765.61" stroke="#ff0000" stroke-width="1.4" fill="none"/>
<path d="M239.36 607.42H248.79M244.07 603.32V611.52M240.91 604.52L247.24 610.32M240.91 610.32L247.24 604.52" stroke="#ff0000" stroke-width="1.4" fill="none"/>
<path d="M248.80 629.38H258.23M253.52 625.28V633.48M250.35 626.48L256.69 632.27M250.35 632.27L256.69 626.48" stroke="#ff0000" stroke-width="1.4" fill="none"/>
<path d="M258.25 697.87H267.68M262.97 693.77V701.97M259.80 694.97L266.13 700.77M259.80 700.77L266.13 694.97" stroke="#ff0000" stroke-width="1.4" fill="none"/>
<path d="M267.70 746.32H277.13M272.41 742.22V750.42M269.24 743.42L275.58 749.22M269.24 749.22L275.58 743.42" stroke="#ff0000" stroke-width="1.4" fill="none"/>
<path d="M277.14 727.94H286.57M281.86 723.84V732.04M278.69 725.04L285.03 730.84M278.69 730.84L285.03 725.04" stroke="#ff0000" stroke-width="1.4" fill="none"/>
<path d="M286.59 741.54H296.02M291.30 737.44V745.64M288.14 738.64L294.47 744.44M288.14 744.44L294.47 738.64" stroke="#ff0000" stroke-width="1.4" fill="none"/>
<path d="M296.04 682.12H305.46M300.75 678.02V686.22M297.58 679.22L303.92 685.02M297.58 685.02L303.92 679.22" stroke="#ff0000" stroke-width="1.4" fill="none"/>
<path d="M305.48 694.77H314.91M310.20 690.67V698.87M307.03 691.87L313.36 697.67M307.03 697.67L313.36 691.87" stroke="#ff0000" stroke-width="1.4" fill="none"/>
<path d="M314.93 693.81H324.36M319.64 689.71V697.91M316.47 690.91L322.81 696.71M316.47 696.71L322.81 690.91" stroke="#ff0000" stroke-width="1.4" fill="none"/>
<path d="M324.37 659.21H333.80M329.09 655.11V663.31M325.92 656.31L332.26 662.11M325.92 662.11L332.26 656.31" stroke="#ff0000" stroke-width="1.4" fill="none"/>
<path d="M333.82 746.32H343.25M338.53 742.22V750.42M335.37 743.42L341.70 749.22M335.37 749.22L341.70 743.42" stroke="#ff0000" stroke-width="1.4" fill="none"/>
<path d="M343.26 683.55H352.69M347.98 679.45V687.65M344.81 680.65L351.15 686.45M344.81 686.45L351.15 680.65" stroke="#ff0000" stroke-width="1.4" fill="none"/>
<path d="M352.71 761.83H362.14M357.43 757.73V765.93M354.26 758.93L360.59 764.73M354.26 764.73L360.59 758.93" stroke="#ff0000" stroke-width="1.4" fill="none"/>
<path d="M362.16 738.44H371.59M366.87 734.34V742.54M363.70 735.54L370.04 741.34M363.70 741.34L370.04 735.54" stroke="#ff0000" stroke-width="1.4" fill="none"/>
<path d="M371.60 768.51H381.03M376.32 764.41V772.61M373.15 765.61L379.49 771.41M373.15 771.41L379.49 765.61" stroke="#ff0000" stroke-width="1.4" fill="none"/>
<path d="M381.05 657.30H390.48M385.76 653.20V661.40M382.60 654.40L388.93 660.20M382.60 660.20L388.93 654.40" stroke="#ff0000" stroke-width="1.4" fill="none"/>
<path d="M390.50 585.37H399.93M395.21 581.27V589.47M392.04 582.47L398.38 588.26M392.04 588.26L398.38 582.47" stroke="#ff0000" stroke-width="1.4" fill="none"/>
<path d="M399.94 768.51H409.37M404.66 764.41V772.61M401.49 765.61L407.82 771.41M401.49 771.41L407.82 765.61" stroke="#ff0000" stroke-width="1.4" fill="none"/>
<path d="M409.39 747.03H418.82M414.10 742.93V751.13M410.93 744.13L417.27 749.93M410.93 749.93L417.27 744.13" stroke="#ff0000" stroke-width="1.4" fill="none"/>
<path d="M418.83 560.00H428.26M423.55 555.90V564.10M420.38 557.10L426.72 562.90M420.38 562.90L426.72 557.10" stroke="#ff0000" stroke-width="1.4" fill="none"/>
<path d="M428.28 766.12H437.71M432.99 762.02V770.22M429.83 763.23L436.16 769.02M429.83 769.02L436.16 763.23" stroke="#ff0000" stroke-width="1.4" fill="none"/>
<path d="M437.72 586.04H447.15M442.44 581.94V590.14M439.27 583.14L445.61 588.94M439.27 588.94L445.61 583.14" stroke="#ff0000" stroke-width="1.4" fill="none"/>
<path d="M447.17 725.31H456.60M451.89 721.21V729.41M448.72 722.42L455.05 728.21M448.72 728.21L455.05 722.42" stroke="#ff0000" stroke-width="1.4" fill="none"/>
<path d="M456.62 624.60H466.05M461.33 620.50V628.70M458.16 621.70L464.50 627.50M458.16 627.50L464.50 621.70" stroke="#ff0000" stroke-width="1.4" fill="none"/>
<path d="M466.06 678.78H475.49M470.78 674.68V682.88M467.61 675.88L473.95 681.68M467.61 681.68L473.95 675.88" stroke="#ff0000" stroke-width="1.4" fill="none"/>
<path d="M475.51 664.46H484.94M480.22 660.36V668.56M477.06 661.56L483.39 667.36M477.06 667.36L483.39 661.56" stroke="#ff0000" stroke-width="1.4" fill="none"/>
<path d="M484.95 554.25H494.38M489.67 550.15V558.35M486.50 551.35L492.84 557.15M486.50 557.15L492.84 551.35" stroke="#ff0000" stroke-width="1.4" fill="none"/>
<path d="M494.40 677.82H503.83M499.12 673.72V681.92M495.95 674.92L502.28 680.72M495.95 680.72L502.28 674.92" stroke="#ff0000" stroke-width="1.4" fill="none"/>
<path d="M503.85 693.10H513.28M508.56 689.00V697.20M505.39 690.20L511.73 696.00M505.39 696.00L511.73 690.20" stroke="#ff0000" stroke-width="1.4" fill="none"/>
<path d="M513.29 755.15H522.72M518.01 751.05V759.25M514.84 752.25L521.18 758.05M514.84 758.05L521.18 752.25" stroke="#ff0000" stroke-width="1.4" fill="none"/>
<path d="M522.74 560.00H532.17M527.45 555.90V564.10M524.29 557.10L530.62 562.90M524.29 562.90L530.62 557.10" stroke="#ff0000" stroke-width="1.4" fill="none"/>
<path d="M532.18 661.59H541.62M536.90 657.49V665.69M533.73 658.69L540.07 664.49M533.73 664.49L540.07 658.69" stroke="#ff0000" stroke-width="1.4" fill="none"/>
<polyline points="64.60,686.65 74.05,697.39 83.49,694.29 92.94,772.81 102.38,649.66 111.83,670.42 121.28,748.23 130.72,661.12 140.17,766.12 149.61,741.07 159.06,758.96 168.51,766.12 177.95,773.28 187.40,707.42 196.84,698.59 206.29,745.12 215.74,648.47 225.18,623.41 234.63,768.51 244.07,617.92 253.52,661.12 262.97,680.21 272.41,743.45 281.86,728.89 291.30,748.23 300.75,682.60 310.20,680.45 319.64,693.33 329.09,653.24 338.53,745.12 347.98,672.33 357.43,761.35 366.87,737.96 376.32,767.08 385.76,666.84 395.21,555.94 404.66,768.51 414.10,745.84 423.55,508.25 432.99,763.74 442.44,584.52 451.89,730.33 461.33,638.44 470.78,678.78 480.22,663.50 489.67,570.48 499.12,677.58 508.56,695.01 518.01,755.15 527.45,543.76 536.90,654.43" fill="none" stroke="#0000ff" stroke-width="1.7" stroke-linejoin="round"/>
<ellipse cx="64.60" cy="686.65" rx="4.03" ry="3.25" fill="none" stroke="#0000ff" stroke-width="1.5"/>
<ellipse cx="74.05" cy="697.39" rx="4.03" ry="3.25" fill="none" stroke="#0000ff" stroke-width="1.5"/>
<ellipse cx="83.49" cy="694.29" rx="4.03" ry="3.25" fill="none" stroke="#0000ff" stroke-width="1.5"/>
<ellipse cx="92.94" cy="772.81" rx="4.03" ry="3.25" fill="none" stroke="#0000ff" stroke-width="1.5"/>
<ellipse cx="102.38" cy="649.66" rx="4.03" ry="3.25" fill="none" stroke="#0000ff" stroke-width="1.5"/>
<ellipse cx="111.83" cy="670.42" rx="4.03" ry="3.25" fill="none" stroke="#0000ff" stroke-width="1.5"/>
<ellipse cx="121.28" cy="748.23" rx="4.03" ry="3.25" fill="none" stroke="#0000ff" stroke-width="1.5"/>
<ellipse cx="130.72" cy="661.12" rx="4.03" ry="3.25" fill="none" stroke="#0000ff" stroke-width="1.5"/>
<ellipse cx="140.17" cy="766.12" rx="4.03" ry="3.25" fill="none" stroke="#0000ff" stroke-width="1.5"/>
<ellipse cx="149.61" cy="741.07" rx="4.03" ry="3.25" fill="none" stroke="#0000ff" stroke-width="1.5"/>
<ellipse cx="159.06" cy="758.96" rx="4.03" ry="3.25" fill="none" stroke="#0000ff" stroke-width="1.5"/>
<ellipse cx="168.51" cy="766.12" rx="4.03" ry="3.25" fill="none" stroke="#0000ff" stroke-width="1.5"/>
<ellipse cx="177.95" cy="773.28" rx="4.03" ry="3.25" fill="none" stroke="#0000ff" stroke-width="1.5"/>
<ellipse cx="187.40" cy="707.42" rx="4.03" ry="3.25" fill="none" stroke="#0000ff" stroke-width="1.5"/>
<ellipse cx="196.84" cy="698.59" rx="4.03" ry="3.25" fill="none" stroke="#0000ff" stroke-width="1.5"/>
<ellipse cx="206.29" cy="745.12" rx="4.03" ry="3.25" fill="none" stroke="#0000ff" stroke-width="1.5"/>
<ellipse cx="215.74" cy="648.47" rx="4.03" ry="3.25" fill="none" stroke="#0000ff" stroke-width="1.5"/>
<ellipse cx="225.18" cy="623.41" rx="4.03" ry="3.25" fill="none" stroke="#0000ff" stroke-width="1.5"/>
<ellipse cx="234.63" cy="768.51" rx="4.03" ry="3.25" fill="none" stroke="#0000ff" stroke-width="1.5"/>
<ellipse cx="244.07" cy="617.92" rx="4.03" ry="3.25" fill="none" stroke="#0000ff" stroke-width="1.5"/>
<ellipse cx="253.52" cy="661.12" rx="4.03" ry="3.25" fill="none" stroke="#0000ff" stroke-width="1.5"/>
<ellipse cx="262.97" cy="680.21" rx="4.03" ry="3.25" fill="none" stroke="#0000ff" stroke-width="1.5"/>
<ellipse cx="272.41" cy="743.45" rx="4.03" ry="3.25" fill="none" stroke="#0000ff" stroke-width="1.5"/>
<ellipse cx="281.86" cy="728.89" rx="4.03" ry="3.25" fill="none" stroke="#0000ff" stroke-width="1.5"/>
<ellipse cx="291.30" cy="748.23" rx="4.03" ry="3.25" fill="none" stroke="#0000ff" stroke-width="1.5"/>
<ellipse cx="300.75" cy="682.60" rx="4.03" ry="3.25" fill="none" stroke="#0000ff" stroke-width="1.5"/>
<ellipse cx="310.20" cy="680.45" rx="4.03" ry="3.25" fill="none" stroke="#0000ff" stroke-width="1.5"/>
<ellipse cx="319.64" cy="693.33" rx="4.03" ry="3.25" fill="none" stroke="#0000ff" stroke-width="1.5"/>
<ellipse cx="329.09" cy="653.24" rx="4.03" ry="3.25" fill="none" stroke="#0000ff" stroke-width="1.5"/>
<ellipse cx="338.53" cy="745.12" rx="4.03" ry="3.25" fill="none" stroke="#0000ff" stroke-width="1.5"/>
<ellipse cx="347.98" cy="672.33" rx="4.03" ry="3.25" fill="none" stroke="#0000ff" stroke-width="1.5"/>
<ellipse cx="357.43" cy="761.35" rx="4.03" ry="3.25" fill="none" stroke="#0000ff" stroke-width="1.5"/>
<ellipse cx="366.87" cy="737.96" rx="4.03" ry="3.25" fill="none" stroke="#0000ff" stroke-width="1.5"/>
<ellipse cx="376.32" cy="767.08" rx="4.03" ry="3.25" fill="none" stroke="#0000ff" stroke-width="1.5"/>
<ellipse cx="385.76" cy="666.84" rx="4.03" ry="3.25" fill="none" stroke="#0000ff" stroke-width="1.5"/>
<ellipse cx="395.21" cy="555.94" rx="4.03" ry="3.25" fill="none" stroke="#0000ff" stroke-width="1.5"/>
<ellipse cx="404.66" cy="768.51" rx="4.03" ry="3.25" fill="none" stroke="#0000ff" stroke-width="1.5"/>
<ellipse cx="414.10" cy="745.84" rx="4.03" ry="3.25" fill="none" stroke="#0000ff" stroke-width="1.5"/>
<ellipse cx="423.55" cy="508.25" rx="4.03" ry="3.25" fill="none" stroke="#0000ff" stroke-width="1.5"/>
<ellipse cx="432.99" cy="763.74" rx="4.03" ry="3.25" fill="none" stroke="#0000ff" stroke-width="1.5"/>
<ellipse cx="442.44" cy="584.52" rx="4.03" ry="3.25" fill="none" stroke="#0000ff" stroke-width="1.5"/>
<ellipse cx="451.89" cy="730.33" rx="4.03" ry="3.25" fill="none" stroke="#0000ff" stroke-width="1.5"/>
<ellipse cx="461.33" cy="638.44" rx="4.03" ry="3.25" fill="none" stroke="#0000ff" stroke-width="1.5"/>
<ellipse cx="470.78" cy="678.78" rx="4.03" ry="3.25" fill="none" stroke="#0000ff" stroke-width="1.5"/>
<ellipse cx="480.22" cy="663.50" rx="4.03" ry="3.25" fill="none" stroke="#0000ff" stroke-width="1.5"/>
<ellipse cx="489.67" cy="570.48" rx="4.03" ry="3.25" fill="none" stroke="#0000ff" stroke-width="1.5"/>
<ellipse cx="499.12" cy="677.58" rx="4.03" ry="3.25" fill="none" stroke="#0000ff" stroke-width="1.5"/>
<ellipse cx="508.56" cy="695.01" rx="4.03" ry="3.25" fill="none" stroke="#0000ff" stroke-width="1.5"/>
<ellipse cx="518.01" cy="755.15" rx="4.03" ry="3.25" fill="none" stroke="#0000ff" stroke-width="1.5"/>
<ellipse cx="527.45" cy="543.76" rx="4.03" ry="3.25" fill="none" stroke="#0000ff" stroke-width="1.5"/>
<ellipse cx="536.90" cy="654.43" rx="4.03" ry="3.25" fill="none" stroke="#0000ff" stroke-width="1.5"/>
<rect x="436.6" y="493.0" width="85.89999999999998" height="31.100000000000023" fill="#fff" stroke="#303030" stroke-width="1"/>
<line x1="441" y1="502" x2="474" y2="502" stroke="#ff0000" stroke-width="1.7"/>
<path d="M452.79 502.00H462.21M457.50 497.90V506.10M454.33 499.10L460.67 504.90M454.33 504.90L460.67 499.10" stroke="#ff0000" stroke-width="1.4" fill="none"/>
<line x1="441" y1="515.9" x2="474" y2="515.9" stroke="#0000ff" stroke-width="1.7"/>
<ellipse cx="457.5" cy="515.9" rx="4.03" ry="3.25" fill="none" stroke="#0000ff" stroke-width="1.5"/>
<text transform="translate(476.8 502.15) scale(1.15 1)" font-family="Liberation Sans, Arial, sans-serif" font-size="8.4" fill="#000">Real</text>
<text transform="translate(476.8 516.05) scale(1.15 1)" font-family="Liberation Sans, Arial, sans-serif" font-size="8.4" fill="#000">Predict</text>
</g>
<text id="capa" transform="translate(309.5 445.9) scale(1.17 1)" text-anchor="middle" font-family="Liberation Serif, Times New Roman, serif" font-size="18.3" fill="#111">(<tspan font-weight="bold">a</tspan>) Training set</text>
<text id="capb" transform="translate(309.5 850.2) scale(1.17 1)" text-anchor="middle" font-family="Liberation Serif, Times New Roman, serif" font-size="18.3" fill="#111">(<tspan font-weight="bold">b</tspan>) Testing set</text>
</svg>
</body></html>
